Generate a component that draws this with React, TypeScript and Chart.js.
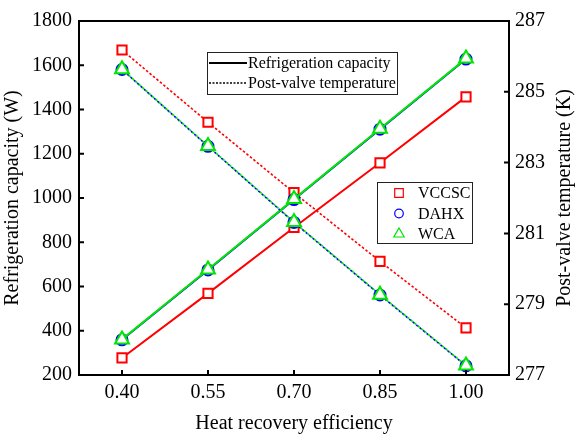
import React, { useEffect, useRef } from 'react';
import { Chart, registerables } from 'chart.js';

Chart.register(...registerables);

// heat recovery efficiency categories
const efficiencies = ['0.40', '0.55', '0.70', '0.85', '1.00'];

// refrigeration capacity (W), left axis
const capacityVCCSC = [277, 569, 867, 1159, 1457];
const capacityDAHX = [359, 675, 993, 1311, 1628];
const capacityWCA = [361, 677, 995, 1313, 1630];

// post-valve temperature (K), right axis
const tempVCCSC = [286.18, 284.14, 282.15, 280.21, 278.33];
const tempDAHX = [285.63, 283.46, 281.31, 279.26, 277.26];
const tempWCA = [285.64, 283.47, 281.32, 279.27, 277.27];

const capacityRange = [200, 1800];
const capacityStep = 200;
const tempRange = [277, 287];
const tempStep = 2;

const systems = ['VCCSC', 'DAHX', 'WCA'];
const lineKinds = ['Refrigeration capacity', 'Post-valve temperature'];
const rightTitle = 'Post-valve temperature (K)';

const RED = '#ff0000';
const BLUE = '#0000ff';
const GREEN = '#00e600';
const FONT = "'Liberation Serif', 'Times New Roman', serif";

const markerFor: Record<string, { style: string; radius: number; color: string }> = {
  VCCSC: { style: 'rect', radius: 6.5, color: RED },
  DAHX: { style: 'circle', radius: 5.5, color: BLUE },
  WCA: { style: 'triangle', radius: 8, color: GREEN },
};

const drawMarker = (ctx: CanvasRenderingContext2D, style: string, x: number, y: number, r: number) => {
  ctx.beginPath();
  if (style === 'rect') {
    ctx.rect(x - r, y - r, 2 * r, 2 * r);
  } else if (style === 'circle') {
    ctx.arc(x, y, r, 0, Math.PI * 2);
  } else {
    ctx.moveTo(x, y - r);
    ctx.lineTo(x + r * 0.866, y + r * 0.5);
    ctx.lineTo(x - r * 0.866, y + r * 0.5);
    ctx.closePath();
  }
  ctx.stroke();
};

// frame, inward ticks, right title and the two legend boxes
const decorations = {
  id: 'decorations',
  afterDraw(chart: any) {
    const { ctx, chartArea: a, scales } = chart;
    ctx.save();
    ctx.strokeStyle = '#000';
    ctx.lineWidth = 2;
    ctx.strokeRect(a.left, a.top, a.right - a.left, a.bottom - a.top);

    const tick = 5;
    ctx.beginPath();
    scales.x.ticks.forEach((_t: any, i: number) => {
      const px = scales.x.getPixelForTick(i);
      ctx.moveTo(px, a.bottom);
      ctx.lineTo(px, a.bottom - tick);
    });
    scales.y.ticks.forEach((t: any) => {
      const py = scales.y.getPixelForValue(t.value);
      ctx.moveTo(a.left, py);
      ctx.lineTo(a.left + tick, py);
    });
    scales.y1.ticks.forEach((t: any) => {
      const py = scales.y1.getPixelForValue(t.value);
      ctx.moveTo(a.right, py);
      ctx.lineTo(a.right - tick, py);
    });
    ctx.stroke();

    // right axis title, reading bottom to top
    ctx.save();
    ctx.translate(565, (a.top + a.bottom) / 2);
    ctx.rotate(-Math.PI / 2);
    ctx.font = `20px ${FONT}`;
    ctx.fillStyle = '#000';
    ctx.textAlign = 'center';
    ctx.textBaseline = 'middle';
    ctx.fillText(rightTitle, 0, 0);
    ctx.restore();

    // line style legend
    ctx.lineWidth = 1;
    ctx.strokeStyle = '#222';
    ctx.strokeRect(207.5, 52.5, 190, 42);
    ctx.font = `16px ${FONT}`;
    ctx.fillStyle = '#000';
    ctx.textBaseline = 'middle';
    ctx.textAlign = 'left';
    lineKinds.forEach((label, i) => {
      const y = 63 + i * 20;
      ctx.beginPath();
      ctx.strokeStyle = '#000';
      ctx.lineWidth = i === 0 ? 2 : 1.5;
      ctx.setLineDash(i === 0 ? [] : [2, 1.5]);
      ctx.moveTo(209, y);
      ctx.lineTo(247, y);
      ctx.stroke();
      ctx.setLineDash([]);
      ctx.fillText(label, 248, y + 1);
    });

    // marker legend
    ctx.lineWidth = 1;
    ctx.strokeStyle = '#222';
    ctx.strokeRect(377.5, 182.5, 95, 61);
    systems.forEach((name, i) => {
      const y = 193 + i * 20.5;
      const m = markerFor[name];
      ctx.strokeStyle = m.color;
      ctx.lineWidth = 1.2;
      drawMarker(ctx, m.style, 399, y, m.style === 'triangle' ? 6 : 4.3);
      ctx.fillStyle = '#000';
      ctx.fillText(name, 418, y + 1);
    });
    ctx.restore();
  },
};

const series = (
  label: string,
  data: number[],
  axis: string,
  dashed: boolean,
  order: number,
  dashOffset = 0,
) => {
  const m = markerFor[label];
  return {
    label: `${label} ${dashed ? 'temperature' : 'capacity'}`,
    data,
    yAxisID: axis,
    order,
    borderColor: m.color,
    borderWidth: dashed ? 1.6 : 2,
    borderDash: dashed ? [2.5, 2] : [],
    borderDashOffset: dashOffset,
    pointStyle: m.style,
    pointRadius: m.radius,
    pointBorderWidth: 2,
    pointBorderColor: m.color,
    pointBackgroundColor: '#fff',
    tension: 0,
    fill: false,
  };
};

const tickFont = { family: FONT, size: 20 };
const plainNumber = (v: any) => String(v);

const App: React.FC = () => {
  const chartRef = useRef<HTMLCanvasElement>(null);
  const chartInstance = useRef<Chart | null>(null);

  useEffect(() => {
    if (!chartRef.current) return;
    chartInstance.current = new Chart(chartRef.current, {
      type: 'line',
      data: {
        labels: efficiencies,
        datasets: [
          series('VCCSC', capacityVCCSC, 'y', false, 4),
          series('DAHX', capacityDAHX, 'y', false, 3),
          series('WCA', capacityWCA, 'y', false, 2),
          series('VCCSC', tempVCCSC, 'y1', true, 5),
          series('DAHX', tempDAHX, 'y1', true, 1, 2),
          series('WCA', tempWCA, 'y1', true, 0),
        ] as any,
      },
      options: {
        animation: false,
        responsive: true,
        maintainAspectRatio: false,
        layout: { padding: { top: 21, left: 0, right: 0, bottom: 0 } },
        plugins: {
          legend: { display: false },
          tooltip: { enabled: false },
        },
        scales: {
          x: {
            type: 'category',
            offset: true,
            grid: { display: false, drawTicks: false },
            border: { display: false },
            ticks: { font: tickFont, color: '#000', padding: 6 },
            title: {
              display: true,
              text: 'Heat recovery efficiency',
              font: tickFont,
              color: '#000',
              padding: { top: 0, bottom: 3 },
            },
            afterFit: (s: any) => { s.height = 64; },
          },
          y: {
            position: 'left',
            min: capacityRange[0],
            max: capacityRange[1],
            grid: { display: false, drawTicks: false },
            border: { display: false },
            ticks: { stepSize: capacityStep, font: tickFont, color: '#000', padding: 7, callback: plainNumber },
            title: {
              display: true,
              text: 'Refrigeration capacity (W)',
              font: tickFont,
              color: '#000',
              padding: { top: 1, bottom: 0 },
            },
            afterFit: (s: any) => { s.width = 79; },
          },
          y1: {
            position: 'right',
            min: tempRange[0],
            max: tempRange[1],
            grid: { display: false, drawTicks: false },
            border: { display: false },
            ticks: { stepSize: tempStep, font: tickFont, color: '#000', padding: 6, callback: plainNumber },
            afterFit: (s: any) => { s.width = 72; },
          },
        },
      } as any,
      plugins: [decorations],
    });

    return () => {
      if (chartInstance.current) {
        chartInstance.current.destroy();
        chartInstance.current = null;
      }
    };
  }, []);

  return (
    <div style={{ position: 'absolute', left: 0, top: 0, width: 581, height: 439, background: '#fff' }}>
      <canvas ref={chartRef} />
    </div>
  );
};

export default App;
